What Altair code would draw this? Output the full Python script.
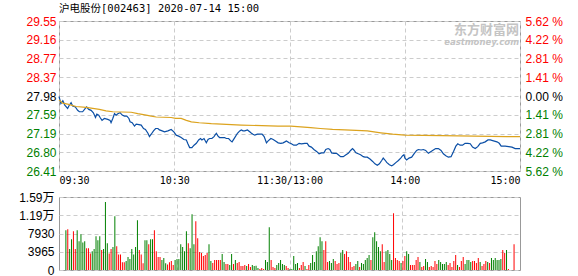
import json
import altair as alt
import pandas as pd

TITLE = "沪电股份[002463] 2020-07-14 15:00"
PREV_CLOSE = 27.98

# ---- price axis ticks / labels ----
price_ticks = [26.41, 26.80, 27.19, 27.59, 27.98, 28.37, 28.77, 29.16, 29.55]
pct_labels = ["5.62 %", "4.22 %", "2.81 %", "1.41 %", "0.00 %", "1.41 %", "2.81 %", "4.22 %", "5.62 %"]
time_ticks = [0, 60, 120, 180, 240]
time_labels = ["09:30", "10:30", "11:30/13:00", "14:00", "15:00"]
vol_ticks = [0, 3965, 7930, 11895, 15860]

# ---- minute price line (minutes after 09:30, trading minutes) ----
price_minutes = [
    0, 1, 2, 3, 4.5, 5.4, 6.3, 7.1, 8.5, 9.7, 10.6, 12.3, 13.7, 14.4, 15.5, 16.7, 17.9, 19, 19.7, 20.7,
    21.4, 22.4, 23.6, 25.4, 26.6, 27.1, 28, 28.9, 29.7, 30.6, 31.8, 32.9, 34.1, 35.3, 36.4, 37, 38.1, 39.3, 40.2, 41.6,
    42.8, 44, 45, 46.3, 47.1, 48, 49.2, 50.3, 51.5, 52.3, 53.7, 54.9, 56.7, 58.4,
    59.8, 61, 62.3, 63.6, 65, 66.3, 67.1, 68, 69.2, 70.3, 71.5, 72.7, 73.7, 74.4, 75.5, 76.7, 77.6, 78.4, 79.6, 80.7,
    81.9, 82.8, 83.6, 84.9, 86.2, 87.1, 88.3, 89.4, 90.1, 91.5, 92.9, 94.1, 94.9, 95.8, 96.7, 98.1, 99.3, 100.2, 101, 101.9,
    103.3, 104.5, 105.7, 106.8, 108, 108.9, 110.3, 111.5, 112.7, 114.1, 115.5, 116.7, 117.6, 118.4,
    119.8, 121, 122.2, 123.6, 125, 126.2, 128, 129.2, 130.2, 131.4, 132.7, 134.1, 135.4, 136.7, 137.9, 138.9, 140.1, 141, 141.9, 143.1,
    144.5, 145.4, 146.6, 148, 149.4, 150.6, 151.8, 152.8, 153.5, 154.6, 155.8, 157, 158.4, 159.3, 160.5, 161.9, 163.3, 164.5, 165.7, 166.8,
    168, 168.8, 169.7, 170.6, 172, 173.2, 174.1, 175.5, 176.7, 177.9, 178.9, 179.6,
    180.1, 181, 182.2, 183.6, 185, 186.2, 187.1, 188.5, 189.7, 190.9, 192.3, 193.7, 194.9, 196.1, 197.5, 198.9, 200.1, 201.4, 202.7, 204.1,
    205.4, 206.6, 207.6, 208.8, 210.1, 211.4, 212.8, 214.1, 215.3, 216.7, 218, 219.3, 220.5, 221.9, 223.3, 224.5, 226.2, 228, 229.2, 230.2,
    232.3, 234.1, 235.8, 237.5, 240,
]
price_values = [
    27.97, 27.82, 27.88, 27.79, 27.72, 27.79, 27.84, 27.77, 27.75, 27.68, 27.65, 27.65, 27.72, 27.75, 27.70, 27.68, 27.63, 27.53, 27.60, 27.58,
    27.53, 27.47, 27.51, 27.49, 27.47, 27.42, 27.51, 27.61, 27.58, 27.61, 27.63, 27.58, 27.56, 27.56, 27.51, 27.44, 27.42, 27.35, 27.39, 27.38,
    27.37, 27.30, 27.28, 27.20, 27.13, 27.18, 27.25, 27.30, 27.30, 27.27, 27.25, 27.23, 27.25, 27.28,
    27.23, 27.16, 27.14, 27.11, 27.07, 27.06, 26.98, 26.90, 26.90, 26.95, 26.99, 27.06, 27.09, 27.06, 27.09, 27.00, 27.07, 27.09, 27.09, 27.13,
    27.20, 27.14, 27.11, 27.11, 27.11, 27.09, 27.09, 27.04, 27.02, 27.11, 27.20, 27.25, 27.27, 27.25, 27.25, 27.27, 27.23, 27.20, 27.18, 27.16,
    27.18, 27.18, 27.18, 27.13, 27.00, 27.04, 27.09, 27.07, 27.04, 27.00, 26.99, 27.00, 27.02, 27.04,
    27.00, 26.98, 26.95, 26.95, 26.99, 26.98, 26.99, 26.99, 26.93, 26.91, 26.86, 26.82, 26.77, 26.79, 26.79, 26.86, 26.88, 26.86, 26.79, 26.78,
    26.78, 26.75, 26.71, 26.71, 26.75, 26.78, 26.84, 26.88, 26.85, 26.79, 26.77, 26.75, 26.71, 26.70, 26.70, 26.66, 26.61, 26.56, 26.53, 26.56,
    26.63, 26.68, 26.64, 26.59, 26.54, 26.52, 26.54, 26.59, 26.63, 26.68, 26.73, 26.75,
    26.68, 26.64, 26.68, 26.70, 26.78, 26.84, 26.86, 26.85, 26.86, 26.84, 26.78, 26.82, 26.85, 26.88, 26.88, 26.84, 26.77, 26.73, 26.70, 26.71,
    26.82, 26.93, 26.98, 26.95, 26.95, 26.99, 26.99, 26.98, 26.91, 26.88, 26.92, 26.99, 27.00, 27.02, 27.06, 27.06, 27.04, 27.02, 26.99, 26.93,
    26.93, 26.92, 26.91, 26.88, 26.88,
]

# ---- average price line ----
avg_minutes = [0, 1.9, 4.5, 8.9, 14.1, 17.6, 21, 24.5, 28, 37.6, 41, 45.4, 48, 50.6, 58.4, 60.7, 63.6, 66.3, 68.9, 73,
               79.3, 95, 114, 120.7, 131, 136, 142.4, 148.8, 160.5, 164, 167.5, 173.7, 180, 199.3, 233, 240]
avg_values = [27.90, 27.83, 27.81, 27.76, 27.74, 27.72, 27.70, 27.67, 27.65, 27.64, 27.61, 27.58, 27.56, 27.54, 27.53, 27.51, 27.51, 27.47, 27.44, 27.42,
              27.40, 27.37, 27.35, 27.35, 27.32, 27.30, 27.28, 27.27, 27.25, 27.23, 27.21, 27.18, 27.16, 27.15, 27.13, 27.13]

# ---- per-minute volume (lots) and direction (r = up, g = down) ----
volumes = [
    8640, 8860, 4540, 6700, 8420, 4540, 8640, 6260, 7780, 5980, 6260, 4750, 4750, 3600, 4100, 4540, 7340, 6480, 7340, 4320,
    4540, 14760, 5830, 3600, 4540, 4970, 11660, 5180, 3380, 3380, 1660, 1660, 1940, 2810, 2380, 4540, 3380, 4970, 10800, 4320,
    3380, 1440, 6480, 6480, 5620, 6700, 6700, 8640, 4100, 2810, 2810, 2160, 2590, 1440, 1220, 1660, 1940, 1080, 2160, 2380,
    2380, 5620, 4970, 4100, 8420, 5830, 4750, 12100, 5620, 10580, 6910, 3890, 3670, 3020, 3240, 3670, 5620, 1940, 1510, 2160,
    2160, 2160, 2160, 3460, 1730, 1300, 1300, 1080, 3460, 1300, 2160, 1510, 1730, 860, 860, 1080, 860, 1300, 650, 1080,
    860, 940, 430, 220, 430, 220, 2160, 1730, 9290, 2160, 650, 430, 1080, 1510, 2160, 1300, 1080, 860, 430, 220,
    220, 3020,
    1300, 1510, 430, 1080, 1730, 860, 220, 1080, 1510, 3240, 1730, 4100, 5180, 7130, 6260, 4320, 6260, 1730, 1940, 1510,
    2380, 1940, 1300, 1510, 3670, 4320, 3460, 4100, 2810, 1730, 650, 860, 1300, 1940, 650, 1510, 1300, 2160, 2590, 3240,
    2160, 7130, 8210, 6260, 4970, 4100, 5620, 1730, 4100, 4320, 3460, 2160, 12310, 2590, 2160, 1940, 1510, 1940, 3020, 4100,
    3460, 1080, 1080, 1080, 2160, 2810, 1730, 650, 860, 2380, 1730, 650, 860, 650, 1940, 1300, 2160, 1730, 1300, 1300,
    1730, 1080, 1510, 650, 1940, 3240, 1080, 650, 1940, 2810, 1300, 2160, 2160, 1730, 1940, 1940, 1510, 2590, 1730, 860,
    1300, 1940, 1730, 1510, 2590, 2160, 2590, 2160, 2160, 2380, 4320, 3670, 4320, 220, 0, 0, 5620,
]
directions = list(
    "grggrrgggg" "grrrgggggr" "gggrrggrrr" "rrgggggggr" "rrggrggrrr" "rgggrrrrgg"
    "gggggrgggr" "rrrrrrggrr" "rrrggrrggr" "grrrrrgrrg" "gggrrrgggr" "rrgggggrrg" "gg"
    "ggrrrgrrgg" "gggggrrrgg" "grrrggrrrr" "rrggrggggg" "rgggggrrgg" "ggrrrrgrrg"
    "grrrrrgrrg" "grrrrrgggg" "grrrrrgrrr" "ggggrrrrgr" "rrgrgggggg" "rrgrrrr"
)

N = len(volumes)
assert len(directions) == N, (len(directions), N)

price_df = pd.DataFrame({"minute": price_minutes, "price": price_values})
avg_df = pd.DataFrame({"minute": avg_minutes, "price": avg_values})
vol_df = pd.DataFrame({"idx": list(range(N)), "vol": volumes, "dir": directions})

GRID = dict(grid=True, gridColor="#CCCCCC", gridDash=[4, 3], gridWidth=1)
LABEL_FONT = "Liberation Sans, Arial, Noto Sans CJK SC"

time_expr = "{}[indexof({}, datum.value)]".format(json.dumps(time_labels), json.dumps(time_ticks))
pct_expr = "{}[indexof({}, datum.value)]".format(json.dumps(pct_labels), json.dumps(price_ticks))

price_color = {
    "condition": [
        {"test": "datum.value > %.3f" % (PREV_CLOSE + 0.005), "value": "#FF0000"},
        {"test": "datum.value > %.3f" % (PREV_CLOSE - 0.005), "value": "#000000"},
    ],
    "value": "#008000",
}

x_price = alt.X(
    "minute:Q",
    scale=alt.Scale(domain=[0, 240], nice=False, zero=False),
    axis=alt.Axis(values=time_ticks, labelExpr=time_expr, labelFlush=True, ticks=False, tickSize=0,
                  domain=False, labelFont="DejaVu Sans Mono", labelFontSize=10, labelColor="#000000",
                  labelPadding=4, title=None, **GRID),
)
y_scale = alt.Scale(domain=[price_ticks[0], price_ticks[-1]], nice=False, zero=False)

line = alt.Chart(price_df).mark_line(color="#0B4FA6", strokeWidth=1.2).encode(
    x=x_price,
    y=alt.Y("price:Q", scale=y_scale,
            axis=alt.Axis(values=price_ticks, format=".2f", labelColor=price_color, orient="left",
                          ticks=False, tickSize=0, domain=False, labelFont=LABEL_FONT, labelFontSize=12,
                          labelPadding=3, title=None, minExtent=50, maxExtent=50, labelBound=False, **GRID)),
)
avg = alt.Chart(avg_df).mark_line(color="#DCA31E", strokeWidth=1.2).encode(
    x=alt.X("minute:Q", scale=alt.Scale(domain=[0, 240], nice=False, zero=False)),
    y=alt.Y("price:Q", scale=y_scale,
            axis=alt.Axis(values=price_ticks, labelExpr=pct_expr, labelColor=price_color, orient="right",
                          ticks=False, tickSize=0, domain=False, grid=False, labelFont=LABEL_FONT,
                          labelFontSize=12, labelPadding=5, title=None, labelBound=False)),
)
wm1 = alt.Chart(pd.DataFrame({"t": ["东方财富网"]})).mark_text(
    align="right", baseline="middle", font="Noto Sans CJK SC", fontSize=13, fontWeight="bold", color="#C4C4C4"
).encode(text="t:N", x=alt.value(460), y=alt.value(8.5))
wm2 = alt.Chart(pd.DataFrame({"t": ["eastmoney.com"]})).mark_text(
    align="right", baseline="middle", font="DejaVu Sans", fontSize=8.5, fontWeight="bold", fontStyle="italic", color="#C4C4C4"
).encode(text="t:N", x=alt.value(460), y=alt.value(20.5))

price_chart = alt.layer(line, avg, wm1, wm2).resolve_scale(y="independent").properties(
    width=461, height=150,
    title=alt.TitleParams(TITLE, anchor="start", frame="group", font="DejaVu Sans Mono, Noto Sans CJK SC",
                          fontSize=10.5, fontWeight="normal", color="#000000", offset=1),
)

vol_grid_vals = [-1 + f * (N + 0.5) for f in (0.25, 0.5, 0.75)]
bars = alt.Chart(vol_df).mark_bar(size=1).encode(
    x=alt.X("idx:Q", scale=alt.Scale(domain=[-1, N - 0.5], nice=False, zero=False),
            axis=alt.Axis(values=vol_grid_vals, labels=False, ticks=False, tickSize=0, domain=False,
                          title=None, **GRID)),
    y=alt.Y("vol:Q", scale=alt.Scale(domain=[0, 15860], nice=False),
            axis=alt.Axis(values=vol_ticks,
                          labelExpr="datum.value >= 10000 ? format(datum.value / 10000, '.2f') + '万' : format(datum.value, 'd')",
                          ticks=False, tickSize=0, domain=False, labelFont=LABEL_FONT, labelFontSize=12,
                          labelColor="#000000", labelPadding=5, title=None, minExtent=50, maxExtent=50, **GRID)),
    color=alt.Color("dir:N", scale=alt.Scale(domain=["r", "g"], range=["#FF0000", "#008000"]), legend=None),
).properties(width=461, height=73)

chart = alt.vconcat(price_chart, bars, spacing=4).properties(
    padding={"left": 8, "top": 3, "right": 0, "bottom": 0},
    background="#FFFFFF",
).configure_view(stroke="#999999", strokeWidth=1)

chart.save("out.html", embed_options={"renderer": "svg", "actions": False})
